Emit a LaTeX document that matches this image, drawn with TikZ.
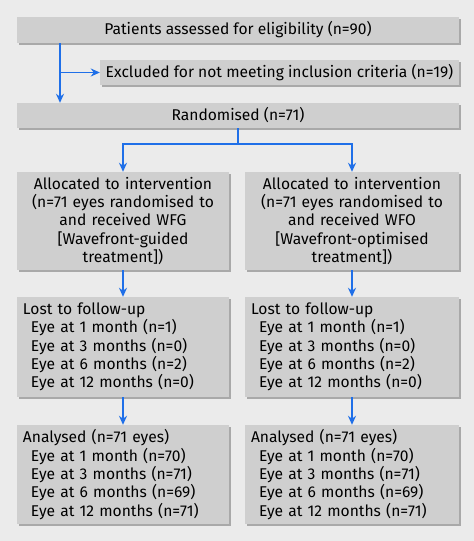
\documentclass[tikz,border=0pt]{standalone}
\usepackage{fontspec}
\setmainfont{Fira Sans}
\usetikzlibrary{positioning,shadows,arrows.meta}

\definecolor{bggray}{HTML}{EBEBEB}
\definecolor{boxgray}{HTML}{CFCFCF}
\definecolor{shadegray}{HTML}{A9A9A9}
\definecolor{flowblue}{HTML}{1F6FE8}

\tikzset{
	box/.style={fill=boxgray, inner sep=0pt, drop shadow={shadow xshift=2pt, shadow yshift=-2pt, fill=shadegray, opacity=1}},
	arr/.style={draw=flowblue, line width=1.8pt, -{Stealth[length=9pt, width=8pt]}},
	line/.style={draw=flowblue, line width=1.8pt},
}

\begin{document}
\begin{tikzpicture}[x=1pt, y=-1pt, font=\fontsize{15.6}{18.3}\selectfont]
		\fill[bggray] (0,0) rectangle (474,541);
		\useasboundingbox (0,0) rectangle (474,541);

		\node[box, minimum width=442pt, minimum height=26pt] (Assessed) at (238, 30) {Patients assessed for eligibility (n=90)};
		\node[box, minimum width=359pt, minimum height=25pt] (Excluded) at (279.5, 72.5) {Excluded for not meeting inclusion criteria (n=19)};
		\node[box, minimum width=442pt, minimum height=25pt] (Random) at (238, 115.5) {Randomised (n=71)};
		\coordinate (Split) at (60, 72.5);

		\node[box, minimum width=212pt, minimum height=98pt, text width=205pt, align=center] (AllocWFG) at (123, 221) {Allocated to intervention\\(n=71 eyes randomised to\\and received WFG\\{[}Wavefront-guided\\treatment{]})};
		\node[box, minimum width=214pt, minimum height=98pt, text width=205pt, align=center] (AllocWFO) at (352, 221) {Allocated to intervention\\(n=71 eyes randomised to\\and received WFO\\{[}Wavefront-optimised\\treatment{]})};

		\node[box, minimum width=212pt, minimum height=100pt, text width=200pt, align=left] (LostWFG) at (123, 347) {Lost to follow-up\\\hspace*{8pt}Eye at 1 month (n=1)\\\hspace*{8pt}Eye at 3 months (n=0)\\\hspace*{8pt}Eye at 6 months (n=2)\\\hspace*{8pt}Eye at 12 months (n=0)};
		\node[box, minimum width=214pt, minimum height=100pt, text width=202pt, align=left] (LostWFO) at (352, 347) {Lost to follow-up\\\hspace*{8pt}Eye at 1 month (n=1)\\\hspace*{8pt}Eye at 3 months (n=0)\\\hspace*{8pt}Eye at 6 months (n=2)\\\hspace*{8pt}Eye at 12 months (n=0)};

		\node[box, minimum width=212pt, minimum height=99pt, text width=200pt, align=left] (AnalWFG) at (123, 474.5) {Analysed (n=71 eyes)\\\hspace*{8pt}Eye at 1 month (n=70)\\\hspace*{8pt}Eye at 3 months (n=71)\\\hspace*{8pt}Eye at 6 months (n=69)\\\hspace*{8pt}Eye at 12 months (n=71)};
		\node[box, minimum width=214pt, minimum height=99pt, text width=202pt, align=left] (AnalWFO) at (352, 474.5) {Analysed (n=71 eyes)\\\hspace*{8pt}Eye at 1 month (n=70)\\\hspace*{8pt}Eye at 3 months (n=71)\\\hspace*{8pt}Eye at 6 months (n=69)\\\hspace*{8pt}Eye at 12 months (n=71)};

		\draw[arr] (Assessed.south -| Split) -- (Random.north -| Split);
		\draw[arr] (Split) -- (Excluded.west);
		\draw[line] (Random.south) -- ++(0, 16) coordinate (Branch);
		\draw[arr] (Branch) -| (AllocWFG.north);
		\draw[arr] (Branch) -| (AllocWFO.north);
		\draw[arr] (AllocWFG) -- (LostWFG);
		\draw[arr] (AllocWFO) -- (LostWFO);
		\draw[arr] (LostWFG) -- (AnalWFG);
		\draw[arr] (LostWFO) -- (AnalWFO);
	\end{tikzpicture}
\end{document}
